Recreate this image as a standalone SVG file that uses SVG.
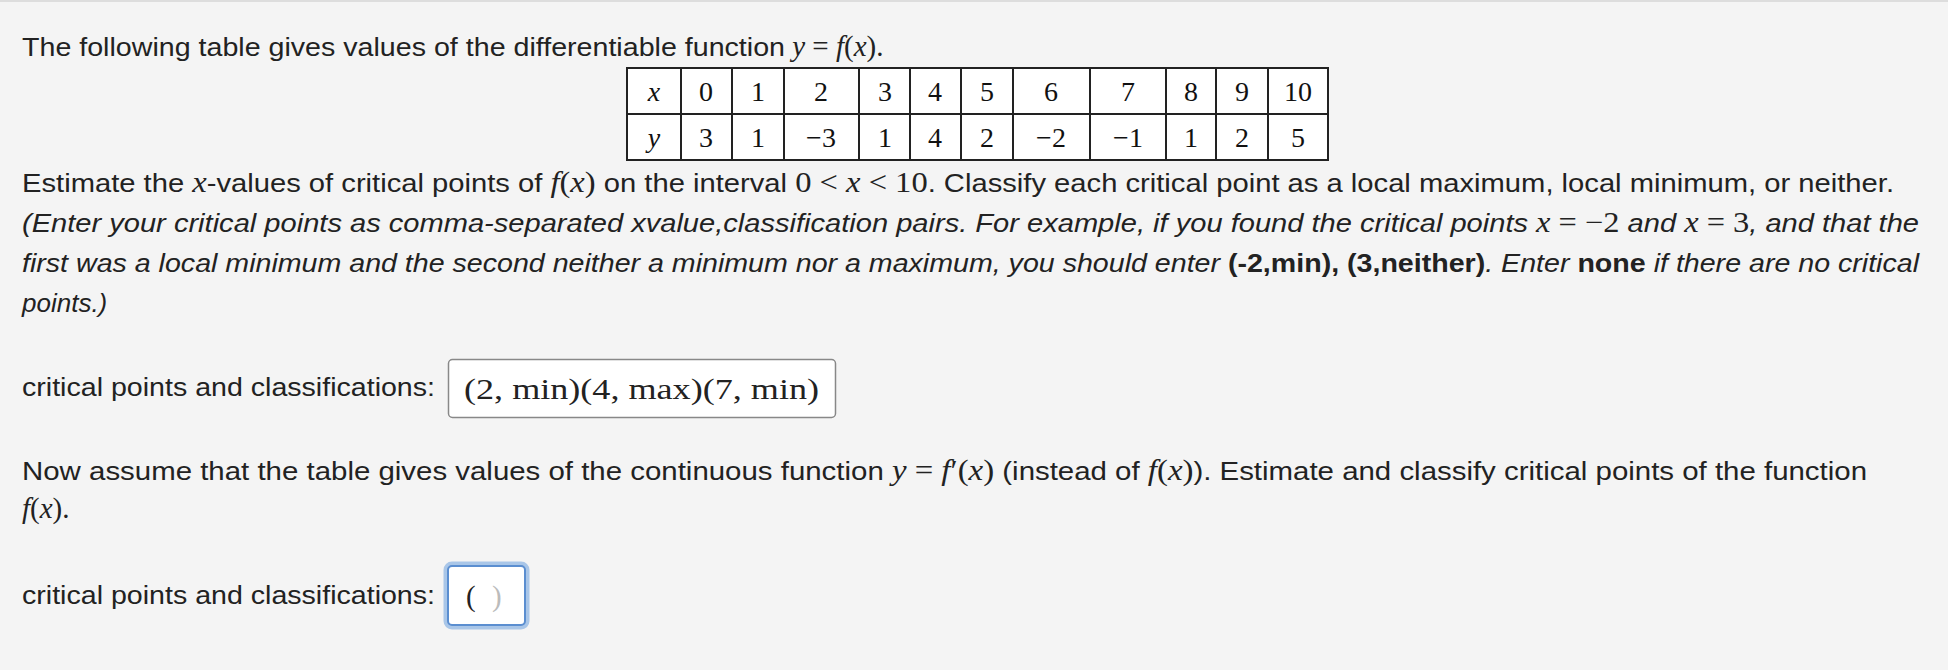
<svg xmlns="http://www.w3.org/2000/svg" width="1948" height="670" viewBox="0 0 1948 670">
<style>
.t{font-family:"Liberation Sans",Arial,sans-serif;font-size:26px;fill:#222}
.i{font-style:italic}
.m{font-family:"Liberation Serif","Times New Roman",serif;font-size:29px}
.mi{font-family:"Liberation Serif","Times New Roman",serif;font-style:italic;font-size:29px}
.b{font-weight:bold}
.c{font-family:"Liberation Serif","Times New Roman",serif;font-size:28px;fill:#111;text-anchor:middle}
.g line{stroke:#222;stroke-width:2}
</style>
<rect width="1948" height="670" fill="#f4f4f4"/>
<line x1="0" y1="1" x2="1948" y2="1" stroke="#ddd" stroke-width="2"/>
<text class="t" x="22" y="56"><tspan textLength="763" lengthAdjust="spacingAndGlyphs">The following table gives values of the differentiable function</tspan> <tspan class="mi">y</tspan><tspan class="m"> = </tspan><tspan class="mi">f</tspan><tspan class="m">(</tspan><tspan class="mi">x</tspan><tspan class="m">).</tspan></text>
<g id="table">
<rect x="627" y="68" width="701" height="92" fill="#fff" stroke="#222" stroke-width="2"/>
<g class="g">
<line x1="627" y1="114" x2="1328" y2="114"/>
<line x1="681" y1="68" x2="681" y2="160"/><line x1="732" y1="68" x2="732" y2="160"/><line x1="784" y1="68" x2="784" y2="160"/><line x1="859" y1="68" x2="859" y2="160"/><line x1="910" y1="68" x2="910" y2="160"/><line x1="961" y1="68" x2="961" y2="160"/><line x1="1013" y1="68" x2="1013" y2="160"/><line x1="1090" y1="68" x2="1090" y2="160"/><line x1="1166" y1="68" x2="1166" y2="160"/><line x1="1216" y1="68" x2="1216" y2="160"/><line x1="1268" y1="68" x2="1268" y2="160"/>
</g>
<text class="c" y="101"><tspan x="654" font-style="italic">x</tspan><tspan x="706">0</tspan><tspan x="758">1</tspan><tspan x="821">2</tspan><tspan x="885">3</tspan><tspan x="935">4</tspan><tspan x="987">5</tspan><tspan x="1051">6</tspan><tspan x="1128">7</tspan><tspan x="1191">8</tspan><tspan x="1242">9</tspan><tspan x="1298">10</tspan></text>
<text class="c" y="147"><tspan x="654" font-style="italic">y</tspan><tspan x="706">3</tspan><tspan x="758">1</tspan><tspan x="821">−3</tspan><tspan x="885">1</tspan><tspan x="935">4</tspan><tspan x="987">2</tspan><tspan x="1051">−2</tspan><tspan x="1128">−1</tspan><tspan x="1191">1</tspan><tspan x="1242">2</tspan><tspan x="1298">5</tspan></text>
</g>
<text class="t" x="22" y="192" textLength="1872" lengthAdjust="spacingAndGlyphs">Estimate the <tspan class="mi">x</tspan>-values of critical points of <tspan class="mi">f</tspan><tspan class="m">(</tspan><tspan class="mi">x</tspan><tspan class="m">)</tspan> on the interval <tspan class="m">0 &lt; </tspan><tspan class="mi">x</tspan><tspan class="m"> &lt; 10</tspan>. Classify each critical point as a local maximum, local minimum, or neither.</text>
<text class="t i" x="22" y="232" textLength="1897" lengthAdjust="spacingAndGlyphs">(Enter your critical points as comma-separated xvalue,classification pairs. For example, if you found the critical points <tspan class="mi">x</tspan><tspan class="m" font-style="normal"> = −2</tspan> and <tspan class="mi">x</tspan><tspan class="m" font-style="normal"> = 3</tspan>, and that the</text>
<text class="t i" x="22" y="272" textLength="1897" lengthAdjust="spacingAndGlyphs">first was a local minimum and the second neither a minimum nor a maximum, you should enter <tspan class="b" font-style="normal">(-2,min), (3,neither)</tspan>. Enter <tspan class="b" font-style="normal">none</tspan> if there are no critical</text>
<text class="t i" x="22" y="312">points.)</text>
<g id="answer1">
<text class="t" x="22" y="396" textLength="413" lengthAdjust="spacingAndGlyphs">critical points and classifications:</text>
<rect x="448.500" y="359.500" width="387" height="58" rx="4" fill="#fff" stroke="#888" stroke-width="1.500"/>
<text class="m" x="464" y="399" fill="#222" font-size="32" textLength="355" lengthAdjust="spacingAndGlyphs">(2, min)(4, max)(7, min)</text>
</g>
<text class="t" x="22" y="480" textLength="1845" lengthAdjust="spacingAndGlyphs">Now assume that the table gives values of the continuous function <tspan class="mi">y</tspan><tspan class="m"> = </tspan><tspan class="mi">f</tspan><tspan class="m">′(</tspan><tspan class="mi">x</tspan><tspan class="m">)</tspan> (instead of <tspan class="mi">f</tspan><tspan class="m">(</tspan><tspan class="mi">x</tspan><tspan class="m">)</tspan>). Estimate and classify critical points of the function</text>
<text class="t" x="22" y="518"><tspan class="mi">f</tspan><tspan class="m">(</tspan><tspan class="mi">x</tspan><tspan class="m">).</tspan></text>
<g id="answer2">
<text class="t" x="22" y="604" textLength="413" lengthAdjust="spacingAndGlyphs">critical points and classifications:</text>
<rect x="446" y="564" width="81" height="63" rx="6" fill="none" stroke="#a9c6e8" stroke-width="5"/>
<rect x="448" y="566" width="77" height="59" rx="4" fill="#fff" stroke="#5b8ed0" stroke-width="2"/>
<text class="m" x="466" y="606" fill="#222" font-size="32">(</text><text class="m" x="492" y="606" fill="#bbb" font-size="32">)</text>
</g>
</svg>
